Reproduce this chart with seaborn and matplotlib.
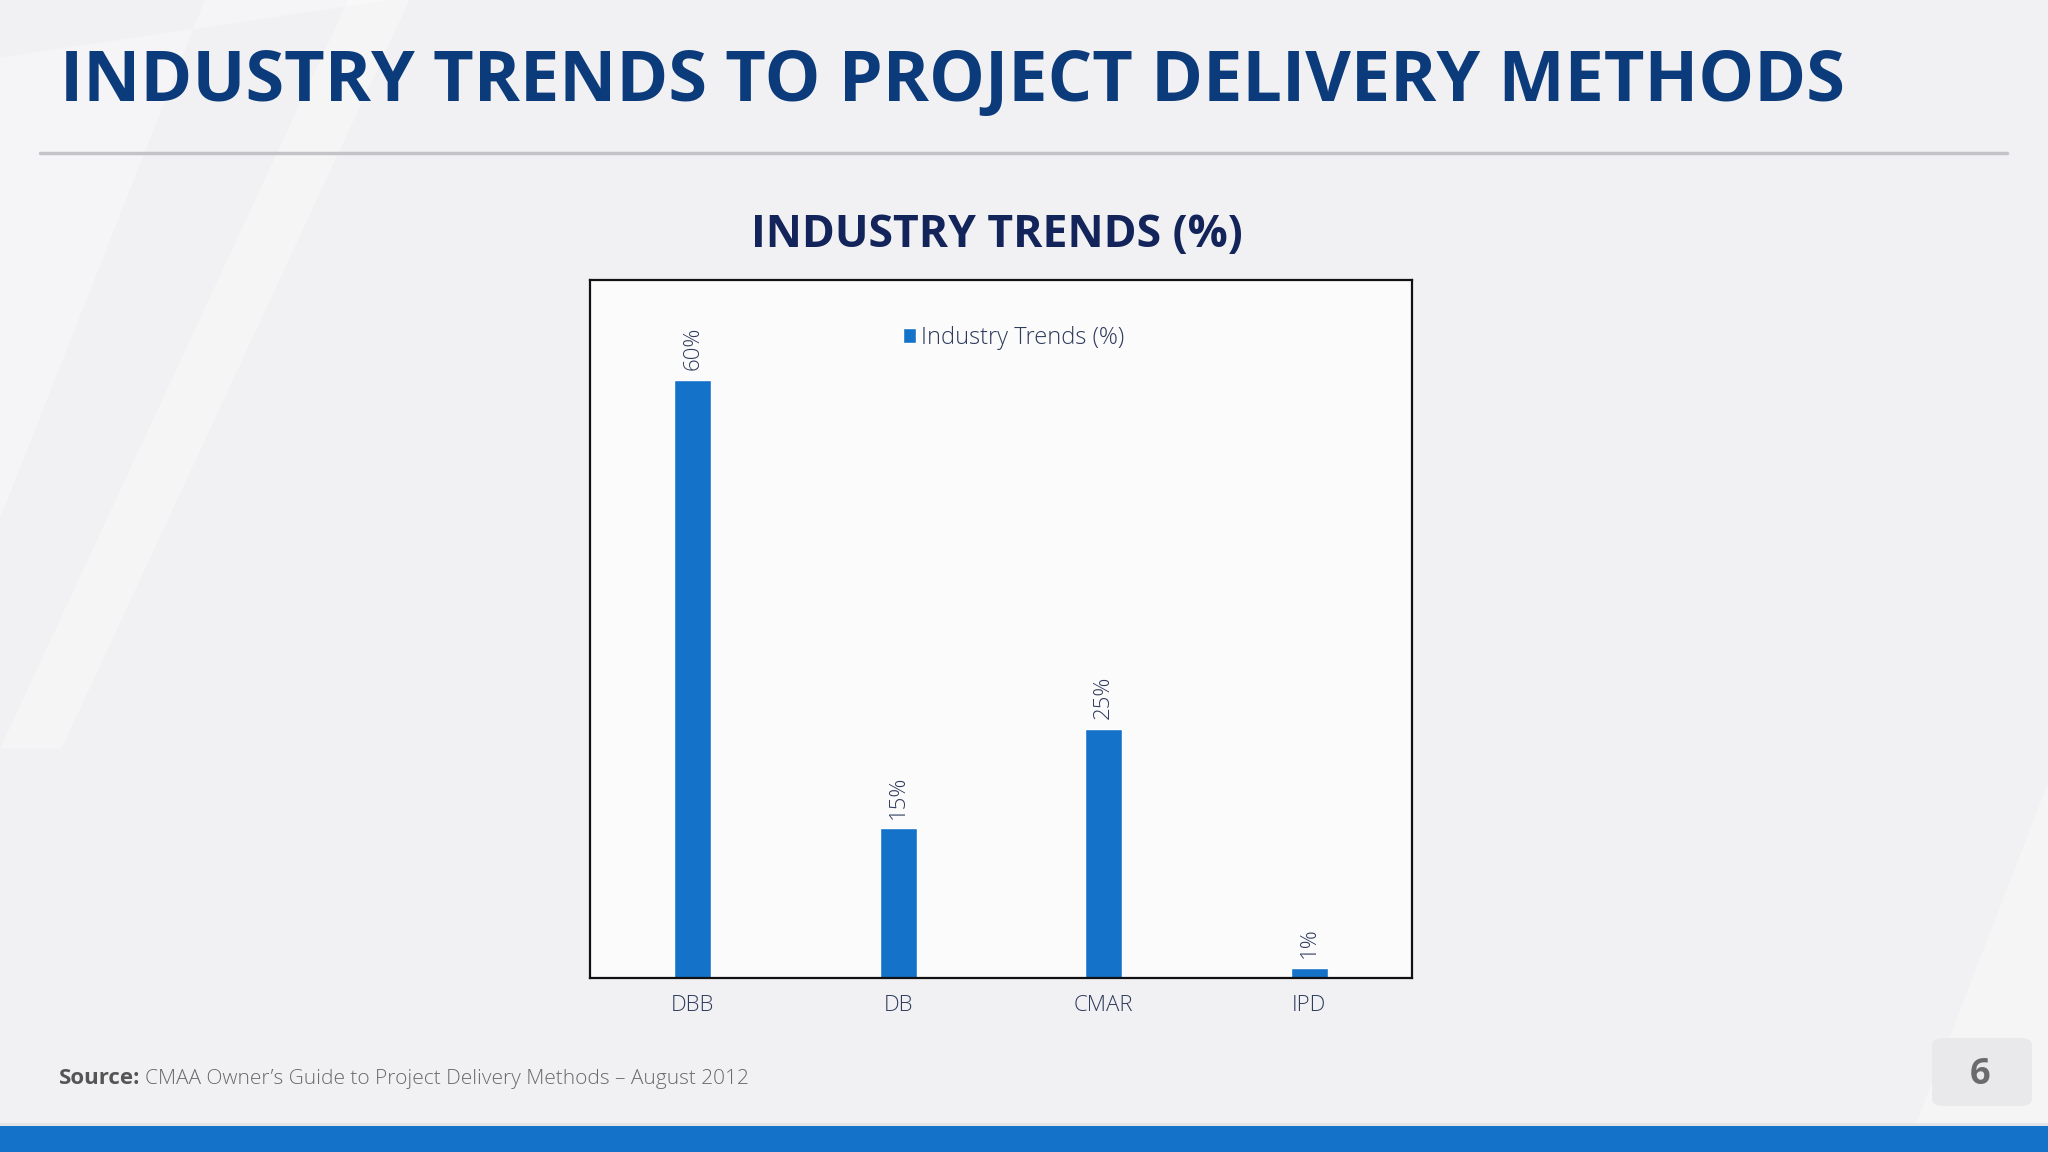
import matplotlib
matplotlib.use("Agg")
import matplotlib.pyplot as plt
from matplotlib.patches import Polygon, FancyBboxPatch, Rectangle
import seaborn as sns
import pandas as pd

categories = ["DBB", "DB", "CMAR", "IPD"]
values = [60, 15, 25, 1]
value_labels = ["60%", "15%", "25%", "1%"]
series_name = "Industry Trends (%)"

BAR = "#1572c9"
NAVY = "#0b3b7a"
TEXT = "#2f3b5c"

sns.set_theme(style="white")
plt.rcParams["font.family"] = ["Open Sans", "DejaVu Sans"]

fig = plt.figure(figsize=(20.48, 11.52), dpi=100)
fig.patch.set_facecolor("#f1f1f3")

# faint diagonal streaks in background
for pts, a in [([(0.0, 0.55), (0.0, 0.95), (0.19, 1.0), (0.10, 1.0)], 0.35),
               ([(0.0, 0.35), (0.03, 0.35), (0.2, 1.0), (0.17, 1.0)], 0.3),
               ([(0.93, 0.0), (1.0, 0.0), (1.0, 0.32)], 0.3)]:
    fig.patches.append(Polygon(pts, closed=True, transform=fig.transFigure,
                               facecolor="white", edgecolor="none", alpha=a, zorder=0))

# title & separator
fig.text(60/2048, 1 - 83/1152, "INDUSTRY TRENDS TO PROJECT DELIVERY METHODS",
         fontsize=50.6, fontweight="bold", color=NAVY, ha="left", va="center")
fig.add_artist(plt.Line2D([40/2048, 2007/2048], [1 - 153/1152]*2,
                          transform=fig.transFigure, color="#c4c4c8", lw=2.5))

# chart title
fig.text(997/2048, 1 - 236/1152, "INDUSTRY TRENDS (%)", fontsize=32,
         fontweight="bold", color="#12245a", ha="center", va="center")

ax = fig.add_axes([590/2048, 174/1152, 822/2048, 698/1152])
ax.set_facecolor("#fbfbfc")

df = pd.DataFrame({"method": categories, "value": values, "series": series_name})
sns.barplot(data=df, x="method", y="value", hue="series", palette=[BAR],
            width=0.18, ax=ax, saturation=1, legend=False)

for cont in ax.containers:
    ax.bar_label(cont, labels=value_labels, rotation=90, padding=7,
                 fontsize=16, color=TEXT, fontweight="light")

ax.set_xlim(-0.5, 3.5)
ax.set_ylim(0, 70)
ax.set_yticks([])
ax.set_xlabel("")
ax.set_ylabel("")
ax.tick_params(axis="x", length=0, pad=12, labelsize=16, labelcolor=TEXT)
for lab in ax.get_xticklabels():
    lab.set_fontweight("light")
for s in ax.spines.values():
    s.set_visible(True)
    s.set_color("#111111")
    s.set_linewidth(1.6)

handle = Rectangle((0, 0), 1, 1, facecolor=BAR)
leg = ax.legend([handle], [series_name], loc="center",
                bbox_to_anchor=(0.515, 0.917), frameon=False,
                prop={"size": 17, "weight": "light"},
                handlelength=0.55, handleheight=0.55, handletextpad=0.2,
                labelcolor=TEXT)

# source
fig.canvas.draw()
r = fig.canvas.get_renderer()
t1 = fig.text(59/2048, 1 - 1079/1152, "Source:", fontsize=16, fontweight="bold",
              color="#555555", ha="left", va="center")
bb = t1.get_window_extent(renderer=r)
fig.text((bb.x1 + 5)/2048, 1 - 1079/1152,
         "CMAA Owner\u2019s Guide to Project Delivery Methods \u2013 August 2012",
         fontsize=15, fontweight="light", color="#6a6a6a", ha="left", va="center")

# page number box
fig.patches.append(FancyBboxPatch((1932/2048, 1 - 1106/1152), 100/2048, 68/1152,
                                  boxstyle="round,pad=0,rounding_size=0.006",
                                  transform=fig.transFigure, facecolor="#e9e9eb",
                                  edgecolor="none", zorder=1))
fig.text(1980/2048, 1 - 1075/1152, "6", fontsize=26, fontweight="bold",
         color="#6b6b6b", ha="center", va="center")

# bottom blue band
fig.patches.append(Rectangle((0, 0), 1, 26/1152, transform=fig.transFigure,
                             facecolor=BAR, edgecolor="none", zorder=1))
fig.patches.append(Rectangle((0, 26/1152), 1, 3/1152, transform=fig.transFigure,
                             facecolor="#e3e4e8", edgecolor="none", zorder=1))

fig.savefig("out.png", dpi=100, facecolor=fig.get_facecolor())
